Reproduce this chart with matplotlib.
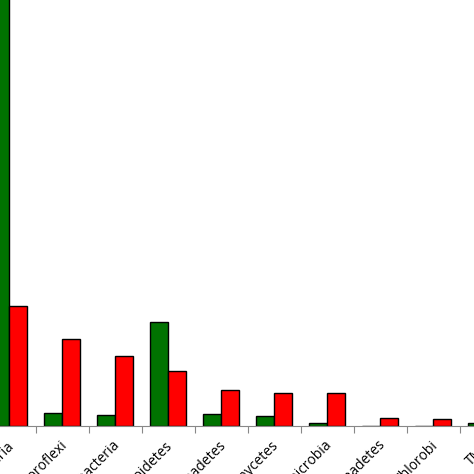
import matplotlib
matplotlib.use("Agg")
import matplotlib.pyplot as plt
import numpy as np

categories = ["Proteobacteria", "Chloroflexi", "Actinobacteria", "Bacteroidetes",
              "Gemmatimonadetes", "Planctomycetes", "Verrucomicrobia",
              "Armatimonadetes", "Chlorobi", "TM7"]
green = [600, 13, 11, 104, 12, 10, 3, 0, 0, 3]
red = [120, 87, 70, 55, 36, 33, 33, 8, 7, 5]

fig = plt.figure(figsize=(4.74, 4.74), dpi=100)
ax = fig.add_axes([0, 48/474, 1, 426/474])
x = np.arange(len(categories))
w = 18/53
ax.bar(x - w/2, green, w, color="#007300", edgecolor="black", linewidth=1)
ax.bar(x + w/2, red, w, color="#ff0000", edgecolor="black", linewidth=1)
for s in ["top", "right", "left"]:
    ax.spines[s].set_visible(False)
ax.spines["bottom"].set_color("#888888")
ax.set_yticks([])
ax.set_xticks(x + 0.5)
ax.set_xticklabels([])
ax.tick_params(axis="x", length=5, color="#888888")
ax.set_xlim(-9/53, 465/53)
ax.set_ylim(0, 426)
for i, c in enumerate(categories):
    ax.text(i + 0.15, -12, c, rotation=45, ha="right", va="top",
            fontsize=10, family="Open Sans", clip_on=False)
fig.savefig("out.png", dpi=100)
